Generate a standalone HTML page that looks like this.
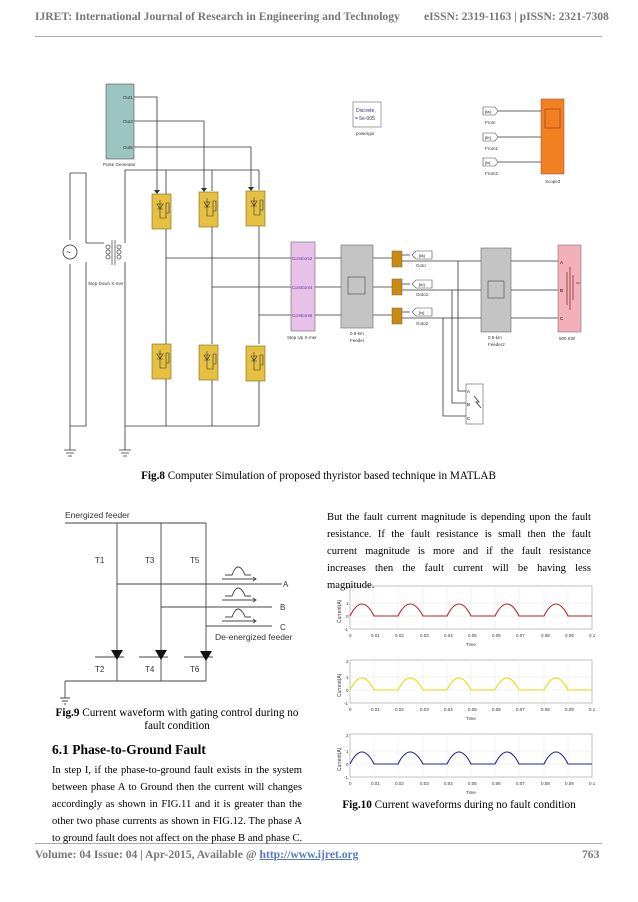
<!DOCTYPE html>
<html><head><meta charset="utf-8"><style>
body{margin:0;width:638px;height:902px;background:#fff;position:relative;overflow:hidden;font-family:"Liberation Serif",serif;color:#000}
.a{position:absolute}
.hdr{font-weight:bold;color:#777;font-size:11.6px}
.p{font-size:10.6px;line-height:17px}
.p div{text-align:justify;text-align-last:justify;white-space:nowrap}
.p div.l{text-align-last:left}
.cap{font-size:11.2px;text-align:center}
svg text{font-family:"Liberation Sans",sans-serif}
</style></head><body>
<div class="a hdr" style="left:35px;top:10px">IJRET: International Journal of Research in Engineering and Technology</div>
<div class="a hdr" style="left:424px;top:10px">eISSN: 2319-1163 | pISSN: 2321-7308</div>
<div class="a" style="left:35px;top:36px;width:567px;height:1px;background:#aaa"></div>
<div class="a" style="left:35px;top:843px;width:567px;height:1px;background:#aaa"></div>
<div class="a hdr" style="left:35px;top:848px">Volume: 04 Issue: 04 | Apr-2015, Available @ <span style="color:#5577cc;text-decoration:underline">http://www.ijret.org</span></div>
<div class="a hdr" style="left:582px;top:848px">763</div>

<svg class="a" style="left:0;top:0" width="638" height="902" viewBox="0 0 638 902">
<g stroke="#333" stroke-width="0.8" fill="none">
<path d="M134 97H157V192M134 121H204V190M134 147H251V189"/>
<path d="M166 170V194M212 170V191M259 170V190M166 170H259M125 243V170H166"/>
<path d="M166 229V344M212 227V344M259 226V344"/>
<path d="M166 379V426M212 379V426M259 379V426M125 426H259M125 262V426V450"/>
<path d="M166 258H291M212 287H291M259 315H291"/>
<path d="M315 258H341M315 287H341M315 315H341"/>
<path d="M373 258H392M373 287H392M373 315H392"/>
<path d="M402 261H481M402 290H481M402 318H481"/>
<path d="M511 261H558M511 290H558M511 318H558"/>
<path d="M458 261V391H466M452 290V403H466M443 318V416H466"/>
<path d="M70 173H86V243M104 243H86M70 173V240M70 264V450M86 262V426H70"/>
<path d="M498 111H541M498 137H541M498 162H541"/>
<path d="M402 255H410M402 284H410M402 312H410"/>
</g>
<g fill="#333"><path d="M154 190l3 4 3-4zM201 188l3 4 3-4zM248 187l3 4 3-4z"/></g>
<g stroke="#333" stroke-width="0.8"><path d="M64 450H76M66 453H74M68 456H72M119 450H131M121 453H129M123 456H127"/></g>
<circle cx="70" cy="252" r="7" fill="#fff" stroke="#333" stroke-width="0.8"/>
<text x="66" y="255" font-size="8">~</text>
<g stroke="#555" stroke-width="0.8" fill="none"><path d="M112 240V265M115 240V265"/><circle cx="108" cy="247" r="2"/><circle cx="108" cy="252" r="2"/><circle cx="108" cy="257" r="2"/><circle cx="119" cy="247" r="2"/><circle cx="119" cy="252" r="2"/><circle cx="119" cy="257" r="2"/></g>
<text x="88" y="285" font-size="4.5" fill="#333">Step Down X-mer</text>
<rect x="106" y="84" width="28" height="75" fill="#9cc4c0" stroke="#555" stroke-width="0.6"/>
<text x="123" y="99" font-size="4.5" fill="#333">Out1</text><text x="123" y="123" font-size="4.5" fill="#333">Out3</text><text x="123" y="149" font-size="4.5" fill="#333">Out5</text>
<text x="103" y="166" font-size="4.5" fill="#333">Pulse Generator</text>
<g fill="#e6c040" stroke="#776620" stroke-width="0.6">
<rect x="152" y="194" width="19" height="35"/><rect x="199" y="192" width="19" height="35"/><rect x="246" y="191" width="19" height="35"/>
<rect x="152" y="344" width="19" height="35"/><rect x="199" y="345" width="19" height="35"/><rect x="246" y="346" width="19" height="35"/>
</g>
<g stroke="#333" stroke-width="0.6" fill="none">
<path d="M157 204l3 5 3-5zM157 209H163M160 200V218H166V212M166 203H169V213H166z"/>
<path d="M204 202l3 5 3-5zM204 207H210M207 198V216H213V210M213 201H216V211H213z"/>
<path d="M251 201l3 5 3-5zM251 206H257M254 197V215H260V209M260 200H263V210H260z"/>
<path d="M157 354l3 5 3-5zM157 359H163M160 350V368H166V362M166 353H169V363H166z"/>
<path d="M204 355l3 5 3-5zM204 360H210M207 351V369H213V363M213 354H216V364H213z"/>
<path d="M251 356l3 5 3-5zM251 361H257M254 352V370H260V364M260 355H263V365H260z"/>
</g>
<rect x="291" y="242" width="24" height="89" fill="#e8c0e8" stroke="#666" stroke-width="0.6"/>
<text x="292" y="260" font-size="4.3" fill="#639">ComEom2</text><text x="292" y="289" font-size="4.3" fill="#639">ComEom4</text><text x="292" y="317" font-size="4.3" fill="#639">ComEom6</text>
<text x="287" y="339" font-size="4.5" fill="#333">Step Up X-mer</text>
<rect x="341" y="245" width="32" height="83" fill="#c4c4c4" stroke="#666" stroke-width="0.6"/>
<rect x="348" y="277" width="17" height="17" fill="none" stroke="#444" stroke-width="0.6"/>
<text x="350" y="335" font-size="4.5" fill="#333">0.5-km</text><text x="350" y="342" font-size="4.5" fill="#333">Feeder</text>
<g fill="#c88a10" stroke="#664" stroke-width="0.5"><rect x="392" y="251" width="10" height="16"/><rect x="392" y="279" width="10" height="16"/><rect x="392" y="308" width="10" height="16"/></g>
<g fill="#fff" stroke="#444" stroke-width="0.6"><path d="M412 255l4-4h16v8h-16z"/><path d="M412 284l4-4h16v8h-16z"/><path d="M412 312l4-4h16v8h-16z"/></g>
<text x="419" y="257" font-size="4">[Ia]</text><text x="419" y="286" font-size="4">[Ib]</text><text x="419" y="314" font-size="4">[Ic]</text>
<text x="416" y="267" font-size="4.5" fill="#333">Goto</text><text x="416" y="296" font-size="4.5" fill="#333">Goto1</text><text x="416" y="325" font-size="4.5" fill="#333">Goto2</text>
<rect x="481" y="248" width="30" height="84" fill="#c4c4c4" stroke="#666" stroke-width="0.6"/>
<rect x="488" y="281" width="16" height="17" fill="none" stroke="#444" stroke-width="0.6"/>
<text x="488" y="339" font-size="4.5" fill="#333">0.5-km</text><text x="488" y="346" font-size="4.5" fill="#333">Feeder2</text>
<rect x="558" y="245" width="23" height="87" fill="#f4b0b8" stroke="#777" stroke-width="0.6"/>
<path d="M567 272V305M570 267V310M573 275V300M576 283H580" stroke="#833" stroke-width="0.8"/>
<text x="560" y="264" font-size="4.5">A</text><text x="560" y="292" font-size="4.5">B</text><text x="560" y="320" font-size="4.5">C</text>
<text x="559" y="340" font-size="4.5" fill="#333">500 KW</text>
<rect x="466" y="384" width="17" height="40" fill="#fff" stroke="#555" stroke-width="0.6"/>
<text x="467" y="393" font-size="4.5">A</text><text x="467" y="406" font-size="4.5">B</text><text x="467" y="420" font-size="4.5">C</text>
<path d="M474 396l5 6-3 0 5 6" stroke="#333" stroke-width="0.8" fill="none"/>
<rect x="353" y="102" width="28" height="25" fill="#fff" stroke="#666" stroke-width="0.6"/>
<text x="356" y="112" font-size="5" fill="#336">Discrete,</text><text x="355" y="120" font-size="5" fill="#336">= 5e-005</text>
<text x="356" y="135" font-size="4.5" fill="#333">powergui</text>
<g fill="#fff" stroke="#444" stroke-width="0.6"><path d="M483 107h12l3 4-3 4h-12z"/><path d="M483 133h12l3 4-3 4h-12z"/><path d="M483 158h12l3 4-3 4h-12z"/></g>
<text x="485" y="113" font-size="4">[Ia]</text><text x="485" y="139" font-size="4">[Ib]</text><text x="485" y="164" font-size="4">[Ic]</text>
<text x="485" y="124" font-size="4.5" fill="#333">From</text><text x="485" y="150" font-size="4.5" fill="#333">From1</text><text x="485" y="175" font-size="4.5" fill="#333">From2</text>
<rect x="541" y="99" width="23" height="75" fill="#f08020" stroke="#a55" stroke-width="0.6"/>
<rect x="545" y="109" width="15" height="19" fill="none" stroke="#933" stroke-width="0.6"/>
<text x="545" y="183" font-size="4.5" fill="#333">Scope3</text>

<g stroke="#444" stroke-width="0.9" fill="none">
<path d="M65 523H206M117 523V681M161 523V681M206 523V681M65 681H206M65 681V698"/>
<path d="M117 584H282M161 607H272M206 626H272"/>
<path d="M95 657H124M139 657H168M184 657H213"/>
<path d="M222 579H256M253 577l3 2-3 2M222 600H256M253 598l3 2-3 2M222 621H256M253 619l3 2-3 2"/>
<path d="M225 575H232Q235 567 238 567Q242 567 245 575H251M225 596H232Q235 588 238 588Q242 588 245 596H251M225 617H232Q235 609 238 609Q242 609 245 617H251"/>
<path d="M60 698H70M62 701H68M64 704H66"/>
</g>
<g fill="#111"><path d="M111 650H123L117 660zM155 650H167L161 660zM200 651H212L206 661z"/></g>
<g font-size="8" fill="#333">
<text x="65" y="518" font-size="8.5">Energized feeder</text>
<text x="95" y="563">T1</text><text x="145" y="563">T3</text><text x="190" y="563">T5</text>
<text x="283" y="587">A</text><text x="280" y="610">B</text><text x="280" y="630">C</text>
<text x="215" y="640" font-size="8.5">De-energized feeder</text>
<text x="95" y="672">T2</text><text x="145" y="672">T4</text><text x="190" y="672">T6</text>
</g>
</svg>

<svg class="a" style="left:320px;top:580px" width="290" height="230" viewBox="0 0 290 230">
<defs>
<g id="ax">
<rect x="30" y="6" width="242" height="43" fill="none" stroke="#999" stroke-width="0.6"/>
<path d="M30 23H272M30 36H272M54 6V49M78 6V49M103 6V49M127 6V49M151 6V49M175 6V49M199 6V49M224 6V49M248 6V49" stroke="#e4e4e4" stroke-width="0.5"/>
<text x="21" y="43" transform="rotate(-90 21 43)" font-size="5">Current(A)</text>
<text x="26" y="9">2</text><text x="26" y="25">1</text><text x="26" y="38">0</text><text x="24" y="51">-1</text>
<text x="29" y="57">0</text><text x="51" y="57">0.01</text><text x="75" y="57">0.02</text><text x="100" y="57">0.03</text><text x="124" y="57">0.04</text><text x="148" y="57">0.05</text><text x="172" y="57">0.06</text><text x="196" y="57">0.07</text><text x="221" y="57">0.08</text><text x="245" y="57">0.09</text><text x="269" y="57">0.1</text>
<text x="146" y="66">Time</text>
</g>
</defs>
<g font-size="4.5" fill="#333" font-family="Liberation Sans">
<use href="#ax"/>
<path d="M30 36Q42 12 54 36H78Q90 12 103 36H127Q139 12 151 36H175Q187 12 199 36H224Q236 12 248 36H272" stroke="#b22" stroke-width="1.1" fill="none"/>
<g transform="translate(0,74)"><use href="#ax"/>
<path d="M30 36Q42 12 54 36H78Q90 12 103 36H127Q139 12 151 36H175Q187 12 199 36H224Q236 12 248 36H272" stroke="#e8e030" stroke-width="1.3" fill="none"/></g>
<g transform="translate(0,148)"><use href="#ax"/>
<path d="M30 36Q42 12 54 36H78Q90 12 103 36H127Q139 12 151 36H175Q187 12 199 36H224Q236 12 248 36H272" stroke="#22229a" stroke-width="1.1" fill="none"/></g>
</g>
</svg>

<div class="a cap" style="left:35px;top:470px;width:567px"><b>Fig.8</b> Computer Simulation of proposed thyristor based technique in MATLAB</div>
<div class="a cap" style="left:52px;top:707px;width:250px;line-height:13px"><b>Fig.9</b> Current waveform with gating control during no fault condition</div>
<div class="a" style="left:52px;top:742px;font-size:13.5px;font-weight:bold">6.1 Phase-to-Ground Fault</div>
<div class="a p" style="left:52px;top:762px;width:250px">
<div>In step I, if the phase-to-ground fault exists in the system</div>
<div>between phase A to Ground then the current will changes</div>
<div>accordingly as shown in FIG.11 and it is greater than the</div>
<div>other two phase currents as shown in FIG.12. The phase A</div>
<div>to ground fault does not affect on the phase B and phase C.</div>
</div>
<div class="a p" style="left:327px;top:509px;width:264px">
<div>But the fault current magnitude is depending upon the fault</div>
<div>resistance. If the fault resistance is small then the fault</div>
<div>current magnitude is more and if the fault resistance</div>
<div>increases then the fault current will be having less</div>
<div class="l">magnitude.</div>
</div>
<div class="a cap" style="left:327px;top:799px;width:264px"><b>Fig.10</b> Current waveforms during no fault condition</div>
</body></html>
